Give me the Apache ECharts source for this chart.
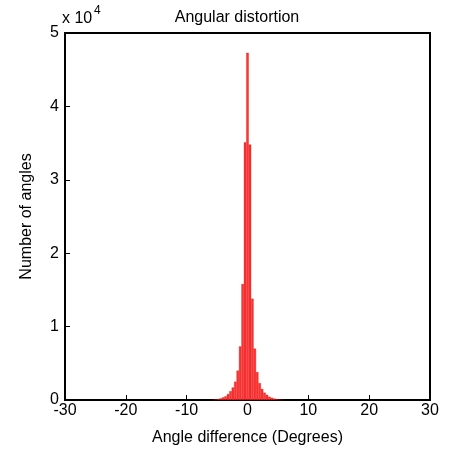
<!DOCTYPE html><html><head><meta charset="utf-8"><script src="https://cdn.jsdelivr.net/npm/echarts@6/dist/echarts.min.js"></script></head><body style="margin:0"><div id="c" style="width:474px;height:451px"></div><script>
const binCenters=[-5.6,-5.2,-4.8,-4.4,-4.0,-3.6,-3.2,-2.8,-2.4,-2.0,-1.6,-1.2,-0.8,-0.4,0,0.4,0.8,1.2,1.6,2.0,2.4,2.8,3.2,3.6,4.0,4.4,4.8,5.2,5.6];
const counts=[30,70,130,220,350,500,800,1200,1700,2500,4000,7300,15800,35100,47300,34800,13800,7000,3800,2300,1500,1000,700,450,300,200,120,60,30];
const xTicks=[-30,30,10];
const ch=echarts.init(document.getElementById('c'));
const f='Arial, Liberation Sans, sans-serif';
ch.setOption({animation:false,
title:{text:'Angular distortion',left:'center',top:5,textStyle:{fontFamily:f,fontSize:16,fontWeight:'normal',color:'#000'}},
graphic:[{type:'text',left:62,top:11,style:{text:'x 10',font:'16px '+f,fill:'#000'}},{type:'text',left:94,top:5,style:{text:'4',font:'12px '+f,fill:'#000'}}],
grid:{left:65,right:44,top:33,bottom:49,show:true,borderColor:'#000',borderWidth:2},
xAxis:{type:'value',min:xTicks[0],max:xTicks[1],interval:xTicks[2],name:'Angle difference (Degrees)',nameLocation:'middle',nameGap:30,nameTextStyle:{fontFamily:f,fontSize:16,color:'#000'},axisLine:{onZero:false,lineStyle:{color:'#000',width:2}},axisTick:{inside:true,length:5,lineStyle:{color:'#000'}},splitLine:{show:false},axisLabel:{fontFamily:f,fontSize:16,color:'#000',margin:3}},
yAxis:{type:'value',min:0,max:50000,interval:10000,name:'Number of angles',nameLocation:'middle',nameGap:30,nameTextStyle:{fontFamily:f,fontSize:16,color:'#000'},axisLine:{show:true,onZero:false,lineStyle:{color:'#000',width:2}},axisTick:{inside:true,length:5,lineStyle:{color:'#000'}},splitLine:{show:false},axisLabel:{fontFamily:f,fontSize:16,color:'#000',margin:6,formatter:v=>v/10000}},
series:[{type:'bar',data:binCenters.map((x,i)=>[x,counts[i]]),barWidth:2.4,itemStyle:{color:'#ff3333',borderColor:'#cc0000',borderWidth:0.3}}]});
</script></body></html>
